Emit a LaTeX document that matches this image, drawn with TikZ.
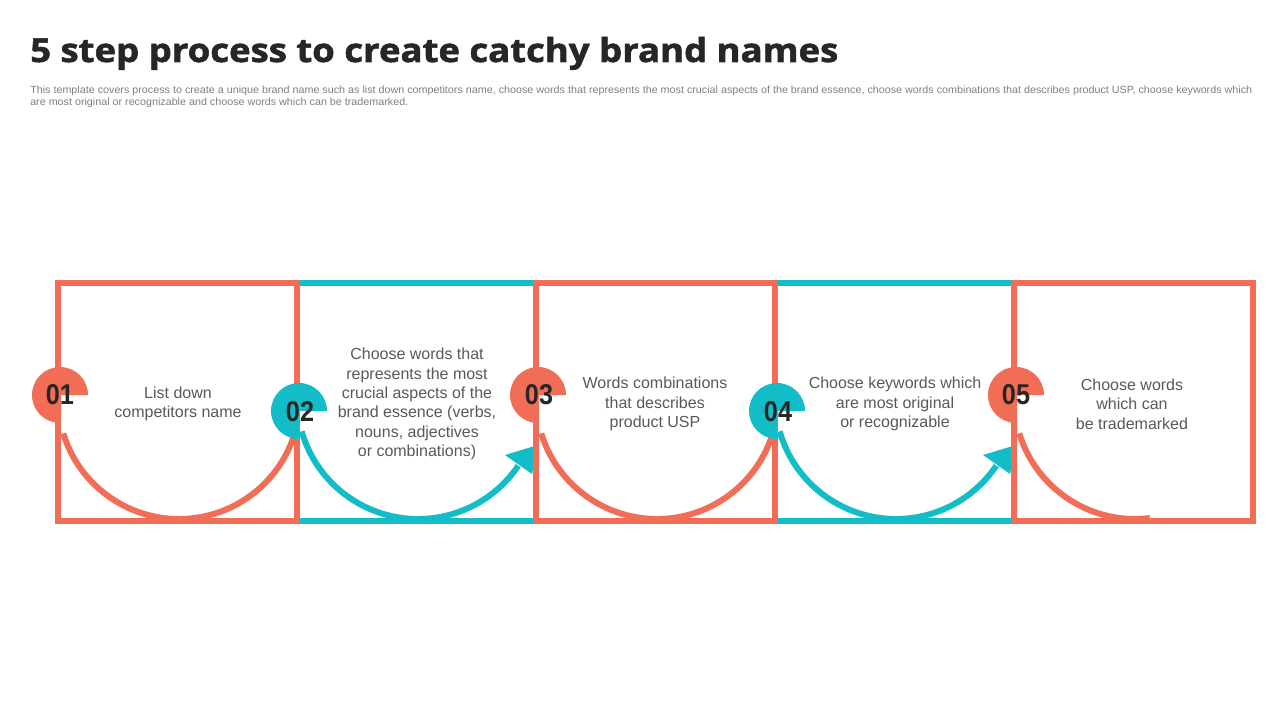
\documentclass[tikz,border=0pt]{standalone}
\usepackage{fontspec}
\setmainfont{Liberation Sans}
\newfontfamily\titlefont[BoldFeatures={FakeBold=1.6}]{Open Sans}
\usetikzlibrary{calc}
\definecolor{coral}{HTML}{F26D55}
\definecolor{tealc}{HTML}{12BDC8}
\definecolor{numcol}{HTML}{262626}
\definecolor{txtcol}{HTML}{595959}
\definecolor{subcol}{HTML}{7F7F7F}
\tikzset{
  stepline/.style={line width=4.5pt},
  steptext/.style={align=center, text=txtcol, inner sep=0pt,
    font=\fontsize{12}{14.5}\selectfont},
  numtext/.style={text=numcol, inner sep=0pt,
    font=\fontsize{21.5}{24}\selectfont\bfseries},
  subtext/.style={anchor=base west, inner sep=0pt, text=subcol,
    font=\fontsize{7.8}{9}\selectfont},
}
\begin{document}
\begin{tikzpicture}[x=0.75pt,y=-0.75pt]
\useasboundingbox (0,0) rectangle (1280,720);
\fill[white] (0,0) rectangle (1280,720);

% title and subtitle
\node[anchor=base west, inner sep=0pt, text=numcol,
  font=\titlefont\bfseries\fontsize{24.75}{30}\selectfont] (title) at (30,62)
  {\resizebox{606pt}{\height}{5 step process to create catchy brand names}};
\node[subtext] (sub1) at (30,94)
  {\resizebox{916.5pt}{\height}{This template covers process to create a unique brand name such as list down competitors name, choose words that represents the most crucial aspects of the brand essence, choose words combinations that describes product USP, choose keywords which}};
\node[subtext] (sub2) at (30,106)
  {\resizebox{283.5pt}{\height}{are most original or recognizable and choose words which can be trademarked.}};

% arc centres
\coordinate (a1) at (179,398);
\coordinate (a2) at (418,398);
\coordinate (a3) at (657,398);
\coordinate (a4) at (896,398);
\coordinate (a5) at (1135,398);

% orange arcs
\draw[coral, stepline] ($(a1)+(163:121)$) arc[start angle=163, end angle=18, radius=121];
\draw[coral, stepline] ($(a3)+(163:121)$) arc[start angle=163, end angle=18, radius=121];
\draw[coral, stepline] ($(a5)+(163:121)$) arc[start angle=163, end angle=83, radius=121];

% teal arcs with arrow heads
\foreach \c in {a2,a4}{
  \draw[tealc, stepline] ($(\c)+(164:121)$) arc[start angle=164, end angle=34, radius=121];
  \fill[tealc] ($(\c)+(87,57)$) -- ($(\c)+(120,47)$) -- ($(\c)+(114,76)$) -- cycle;
}

% teal connecting lines
\draw[tealc, stepline] (297,283) -- (536,283);
\draw[tealc, stepline] (297,521) -- (536,521);
\draw[tealc, stepline] (775,283) -- (1014,283);
\draw[tealc, stepline] (775,521) -- (1014,521);

% orange boxes
\draw[coral, stepline] (58,283) rectangle (297,521);
\draw[coral, stepline] (536,283) rectangle (775,521);
\draw[coral, stepline] (1014,283) rectangle (1253,521);

% pies
\fill[coral] (60,395) -- +(0,28) arc[start angle=90, end angle=360, radius=28] -- cycle;
\fill[tealc] (299,411) -- +(0,28) arc[start angle=90, end angle=360, radius=28] -- cycle;
\fill[coral] (538,395) -- +(0,28) arc[start angle=90, end angle=360, radius=28] -- cycle;
\fill[tealc] (777,411) -- +(0,28) arc[start angle=90, end angle=360, radius=28] -- cycle;
\fill[coral] (1016,395) -- +(0,28) arc[start angle=90, end angle=360, radius=28] -- cycle;

% numbers
\node[numtext] (n1) at (60,395) {\scalebox{0.88}[1]{01}};
\node[numtext] (n2) at (300,412) {\scalebox{0.88}[1]{02}};
\node[numtext] (n3) at (539,395) {\scalebox{0.88}[1]{03}};
\node[numtext] (n4) at (778,412) {\scalebox{0.88}[1]{04}};
\node[numtext] (n5) at (1016,395) {\scalebox{0.88}[1]{05}};

% step texts
\node[steptext] (t1) at (178,404) {List down\\competitors name};
\node[steptext] (t2) at (417,404) {Choose words that\\represents the most\\crucial aspects of the\\brand essence (verbs,\\nouns, adjectives\\or combinations)};
\node[steptext] (t3) at (655,404) {Words combinations\\that describes\\product USP};
\node[steptext] (t4) at (895,404) {Choose keywords which\\are most original\\or recognizable};
\node[steptext] (t5) at (1132,404) {Choose words\\which can\\be trademarked};
\end{tikzpicture}
\end{document}
